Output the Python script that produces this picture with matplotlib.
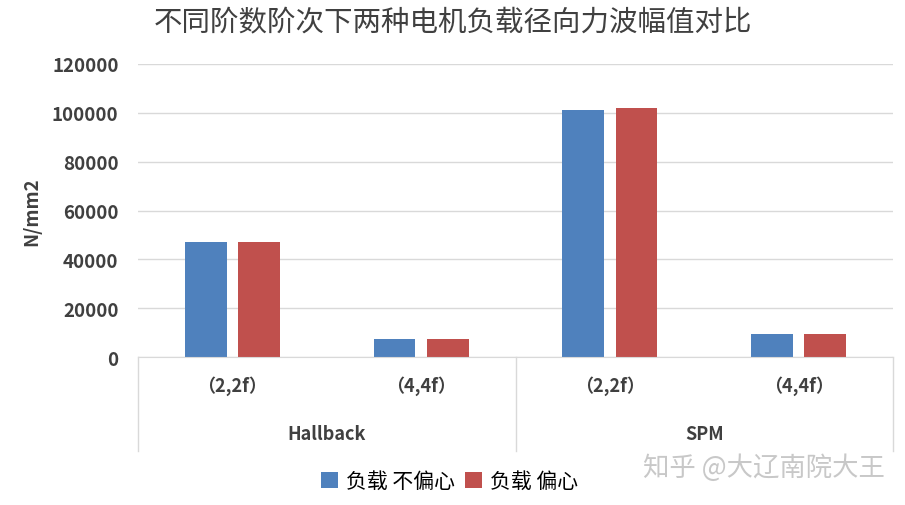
import matplotlib.pyplot as plt
import numpy as np

plt.rcParams['font.family'] = ['Noto Sans CJK SC', 'DejaVu Sans']

categories = ['（2,2f）', '（4,4f）', '（2,2f）', '（4,4f）']
groups = ['Hallback', 'SPM']
no_offset = [47000, 7500, 101000, 9500]
offset = [47000, 7500, 102000, 9500]
series_names = ['负载 不偏心', '负载 偏心']
yticks = [0, 20000, 40000, 60000, 80000, 100000, 120000]

fig = plt.figure(figsize=(9.05, 5.06), dpi=100)
ax = fig.add_axes([138/905, 1-358/506, 755/905, 293/506])

x = np.arange(len(categories))
w = 0.222
ax.bar(x - 0.03 - w/2, no_offset, w, color='#4f81bd', label=series_names[0])
ax.bar(x + 0.03 + w/2, offset, w, color='#c0504d', label=series_names[1])

ax.set_xlim(-0.5, 3.5)
ax.set_ylim(0, 120000)
ax.set_yticks(yticks)
ax.set_yticklabels([str(v) for v in yticks], fontsize=13.5, fontweight='bold', color='#404040')
ax.grid(axis='y', color='#d9d9d9', lw=1)
ax.set_axisbelow(True)
for s in ['top', 'right', 'left']:
    ax.spines[s].set_visible(False)
ax.spines['bottom'].set_color('#d9d9d9')
ax.tick_params(axis='y', length=0, pad=14)
ax.set_xticks([])
ax.set_ylabel('N/mm2', fontsize=13.5, fontweight='bold', color='#404040', labelpad=8)

# multi-level category axis
for i, c in enumerate(categories):
    ax.text(i, -0.095, c, transform=ax.get_xaxis_transform(), ha='center', va='center',
            fontsize=13, fontweight='bold', color='#404040')
for i, g in enumerate(groups):
    ax.text(0.5 + 2*i, -0.26, g, transform=ax.get_xaxis_transform(), ha='center', va='center',
            fontsize=13, fontweight='bold', color='#404040')
for xv in [-0.5, 1.5, 3.5]:
    ax.plot([xv, xv], [0, -0.32], transform=ax.get_xaxis_transform(), color='#d9d9d9',
            lw=1, clip_on=False)

fig.text(0.5, 1-22/506, '不同阶数阶次下两种电机负载径向力波幅值对比', ha='center', va='center',
         fontsize=20.5, color='#404040')
fig.legend(loc='center', bbox_to_anchor=(0.497, 1-482/506), ncol=2, frameon=False,
           fontsize=15, handlelength=0.8, handleheight=0.8, columnspacing=0.5, handletextpad=0.4)
fig.text(0.978, 1-468/506, '知乎 @大辽南院大王', ha='right', va='center', fontsize=19, color='#c8c8c8')

plt.savefig('out.png')
